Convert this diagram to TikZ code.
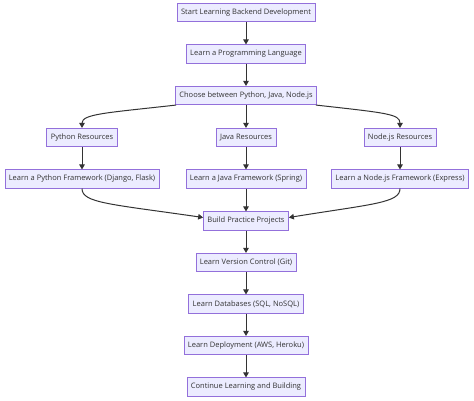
\documentclass[tikz,border=0pt]{standalone}
\usepackage{fontspec}
\setmainfont{Open Sans}
\usetikzlibrary{arrows.meta}
\definecolor{boxfill}{HTML}{ECECFF}
\definecolor{boxline}{HTML}{9370DB}
\definecolor{ink}{HTML}{333333}
\tikzset{
  box/.style={draw=boxline, fill=boxfill, line width=0.6pt, text=ink,
    font=\fontsize{7.5}{8.5}\selectfont, minimum height=18.5pt, inner xsep=4pt, inner ysep=0pt},
  link/.style={draw=ink, line width=1pt, -{Triangle[length=5pt,width=5.5pt]}}
}
\begin{document}
\begin{tikzpicture}[x=1pt,y=-1pt]
\useasboundingbox (0,0) rectangle (474,400);
\node[box] (start) at (246,12.5) {Start Learning Backend Development};
\node[box] (lang) at (246,54) {Learn a Programming Language};
\node[box] (choose) at (246,95.5) {Choose between Python, Java, Node.js};
\node[box] (pyr) at (82,137.5) {Python Resources};
\node[box] (jar) at (246,137.5) {Java Resources};
\node[box] (nor) at (400,137.5) {Node.js Resources};
\node[box] (pyf) at (82,179) {Learn a Python Framework (Django, Flask)};
\node[box] (jaf) at (246,179) {Learn a Java Framework (Spring)};
\node[box] (nof) at (400,179) {Learn a Node.js Framework (Express)};
\node[box] (build) at (246,221) {Build Practice Projects};
\node[box] (git) at (246,262.5) {Learn Version Control (Git)};
\node[box] (db) at (246,304) {Learn Databases (SQL, NoSQL)};
\node[box] (dep) at (246,345.5) {Learn Deployment (AWS, Heroku)};
\node[box] (cont) at (246,387) {Continue Learning and Building};

\draw[link] (start) -- (lang);
\draw[link] (lang) -- (choose);
\draw[link] ([xshift=1pt]choose.south west) .. controls (105,113) and (82,114) .. (pyr.north);
\draw[link] (choose) -- (jar);
\draw[link] ([xshift=-1pt]choose.south east) .. controls (387,113) and (400,114) .. (nor.north);
\draw[link] (pyr) -- (pyf);
\draw[link] (jar) -- (jaf);
\draw[link] (nor) -- (nof);
\draw[link] (pyf.south) .. controls (82,203) and (110,204) .. ([yshift=3.5pt]build.west);
\draw[link] (jaf) -- (build);
\draw[link] (nof.south) .. controls (400,203) and (372,204) .. ([yshift=3.5pt]build.east);
\draw[link] (build) -- (git);
\draw[link] (git) -- (db);
\draw[link] (db) -- (dep);
\draw[link] (dep) -- (cont);
\end{tikzpicture}
\end{document}
